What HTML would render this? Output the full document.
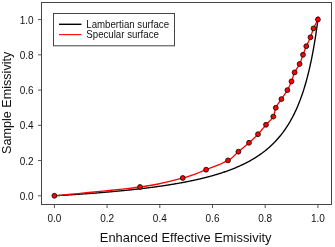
<!DOCTYPE html>
<html><head><meta charset="utf-8"><style>
html,body{margin:0;padding:0;background:#fff;width:335px;height:247px;overflow:hidden}
svg{display:block;will-change:transform}
text{font-family:"Liberation Sans",sans-serif;fill:#111}
</style></head><body>
<svg width="335" height="247" viewBox="0 0 335 247">
<rect x="41.5" y="2.5" width="290" height="202" fill="none" stroke="#444" stroke-width="1"/>
<g stroke="#555" stroke-width="1"><line x1="54.40" y1="205" x2="54.40" y2="208"/><line x1="107.10" y1="205" x2="107.10" y2="208"/><line x1="159.80" y1="205" x2="159.80" y2="208"/><line x1="212.50" y1="205" x2="212.50" y2="208"/><line x1="265.20" y1="205" x2="265.20" y2="208"/><line x1="317.90" y1="205" x2="317.90" y2="208"/><line x1="38" y1="195.80" x2="41" y2="195.80"/><line x1="38" y1="160.56" x2="41" y2="160.56"/><line x1="38" y1="125.32" x2="41" y2="125.32"/><line x1="38" y1="90.08" x2="41" y2="90.08"/><line x1="38" y1="54.84" x2="41" y2="54.84"/><line x1="38" y1="19.60" x2="41" y2="19.60"/></g>
<g font-size="10"><text x="54.40" y="222" text-anchor="middle">0.0</text><text x="107.10" y="222" text-anchor="middle">0.2</text><text x="159.80" y="222" text-anchor="middle">0.4</text><text x="212.50" y="222" text-anchor="middle">0.6</text><text x="265.20" y="222" text-anchor="middle">0.8</text><text x="317.90" y="222" text-anchor="middle">1.0</text><text x="33.6" y="199.90" text-anchor="end">0.0</text><text x="33.6" y="164.66" text-anchor="end">0.2</text><text x="33.6" y="129.42" text-anchor="end">0.4</text><text x="33.6" y="94.18" text-anchor="end">0.6</text><text x="33.6" y="58.94" text-anchor="end">0.8</text><text x="33.6" y="23.70" text-anchor="end">1.0</text></g>
<text x="185.7" y="241.8" font-size="12.9" text-anchor="middle">Enhanced Effective Emissivity</text>
<text transform="translate(11.2,102.8) rotate(-90)" font-size="12.6" text-anchor="middle">Sample Emissivity</text>
<path d="M54.40,195.80 L55.06,195.76 L55.72,195.72 L56.38,195.69 L57.03,195.65 L57.69,195.61 L58.35,195.57 L59.01,195.53 L59.67,195.49 L60.33,195.45 L60.99,195.41 L61.65,195.37 L62.30,195.33 L62.96,195.29 L63.62,195.25 L64.28,195.21 L64.94,195.17 L65.60,195.13 L66.26,195.09 L66.92,195.05 L67.58,195.01 L68.23,194.96 L68.89,194.92 L69.55,194.88 L70.21,194.84 L70.87,194.80 L71.53,194.75 L72.19,194.71 L72.84,194.67 L73.50,194.62 L74.16,194.58 L74.82,194.54 L75.48,194.49 L76.14,194.45 L76.80,194.40 L77.46,194.36 L78.11,194.31 L78.77,194.27 L79.43,194.22 L80.09,194.18 L80.75,194.13 L81.41,194.09 L82.07,194.04 L82.73,193.99 L83.38,193.95 L84.04,193.90 L84.70,193.85 L85.36,193.81 L86.02,193.76 L86.68,193.71 L87.34,193.66 L88.00,193.61 L88.66,193.56 L89.31,193.52 L89.97,193.47 L90.63,193.42 L91.29,193.37 L91.95,193.32 L92.61,193.27 L93.27,193.22 L93.92,193.17 L94.58,193.11 L95.24,193.06 L95.90,193.01 L96.56,192.96 L97.22,192.91 L97.88,192.86 L98.54,192.80 L99.19,192.75 L99.85,192.70 L100.51,192.64 L101.17,192.59 L101.83,192.54 L102.49,192.48 L103.15,192.43 L103.81,192.37 L104.47,192.32 L105.12,192.26 L105.78,192.20 L106.44,192.15 L107.10,192.09 L107.76,192.03 L108.42,191.98 L109.08,191.92 L109.73,191.86 L110.39,191.80 L111.05,191.75 L111.71,191.69 L112.37,191.63 L113.03,191.57 L113.69,191.51 L114.35,191.45 L115.00,191.39 L115.66,191.33 L116.32,191.26 L116.98,191.20 L117.64,191.14 L118.30,191.08 L118.96,191.02 L119.62,190.95 L120.28,190.89 L120.93,190.83 L121.59,190.76 L122.25,190.70 L122.91,190.63 L123.57,190.57 L124.23,190.50 L124.89,190.43 L125.55,190.37 L126.20,190.30 L126.86,190.23 L127.52,190.17 L128.18,190.10 L128.84,190.03 L129.50,189.96 L130.16,189.89 L130.81,189.82 L131.47,189.75 L132.13,189.68 L132.79,189.61 L133.45,189.54 L134.11,189.46 L134.77,189.39 L135.43,189.32 L136.09,189.25 L136.74,189.17 L137.40,189.10 L138.06,189.02 L138.72,188.95 L139.38,188.87 L140.04,188.79 L140.70,188.72 L141.35,188.64 L142.01,188.56 L142.67,188.48 L143.33,188.40 L143.99,188.32 L144.65,188.24 L145.31,188.16 L145.97,188.08 L146.62,188.00 L147.28,187.92 L147.94,187.84 L148.60,187.75 L149.26,187.67 L149.92,187.59 L150.58,187.50 L151.24,187.41 L151.90,187.33 L152.55,187.24 L153.21,187.15 L153.87,187.07 L154.53,186.98 L155.19,186.89 L155.85,186.80 L156.51,186.71 L157.16,186.62 L157.82,186.53 L158.48,186.43 L159.14,186.34 L159.80,186.25 L160.46,186.15 L161.12,186.06 L161.78,185.96 L162.44,185.86 L163.09,185.77 L163.75,185.67 L164.41,185.57 L165.07,185.47 L165.73,185.37 L166.39,185.27 L167.05,185.17 L167.70,185.07 L168.36,184.96 L169.02,184.86 L169.68,184.75 L170.34,184.65 L171.00,184.54 L171.66,184.43 L172.32,184.33 L172.97,184.22 L173.63,184.11 L174.29,184.00 L174.95,183.89 L175.61,183.77 L176.27,183.66 L176.93,183.55 L177.59,183.43 L178.25,183.31 L178.90,183.20 L179.56,183.08 L180.22,182.96 L180.88,182.84 L181.54,182.72 L182.20,182.60 L182.86,182.48 L183.52,182.35 L184.17,182.23 L184.83,182.10 L185.49,181.97 L186.15,181.85 L186.81,181.72 L187.47,181.59 L188.13,181.46 L188.78,181.32 L189.44,181.19 L190.10,181.06 L190.76,180.92 L191.42,180.78 L192.08,180.64 L192.74,180.51 L193.40,180.36 L194.06,180.22 L194.71,180.08 L195.37,179.94 L196.03,179.79 L196.69,179.64 L197.35,179.49 L198.01,179.34 L198.67,179.19 L199.33,179.04 L199.98,178.89 L200.64,178.73 L201.30,178.58 L201.96,178.42 L202.62,178.26 L203.28,178.10 L203.94,177.93 L204.59,177.77 L205.25,177.60 L205.91,177.44 L206.57,177.27 L207.23,177.10 L207.89,176.92 L208.55,176.75 L209.21,176.57 L209.87,176.40 L210.52,176.22 L211.18,176.04 L211.84,175.85 L212.50,175.67 L213.16,175.48 L213.82,175.29 L214.48,175.10 L215.13,174.91 L215.79,174.71 L216.45,174.52 L217.11,174.32 L217.77,174.12 L218.43,173.92 L219.09,173.71 L219.75,173.50 L220.41,173.29 L221.06,173.08 L221.72,172.87 L222.38,172.65 L223.04,172.43 L223.70,172.21 L224.36,171.99 L225.02,171.76 L225.68,171.53 L226.33,171.30 L226.99,171.07 L227.65,170.83 L228.31,170.59 L228.97,170.35 L229.63,170.11 L230.29,169.86 L230.95,169.61 L231.60,169.35 L232.26,169.10 L232.92,168.84 L233.58,168.57 L234.24,168.31 L234.90,168.04 L235.56,167.77 L236.22,167.49 L236.87,167.21 L237.53,166.93 L238.19,166.64 L238.85,166.35 L239.51,166.06 L240.17,165.76 L240.83,165.46 L241.48,165.15 L242.14,164.84 L242.80,164.53 L243.46,164.21 L244.12,163.89 L244.78,163.56 L245.44,163.23 L246.10,162.90 L246.75,162.56 L247.41,162.21 L248.07,161.87 L248.73,161.51 L249.39,161.15 L250.05,160.79 L250.71,160.42 L251.37,160.04 L252.03,159.66 L252.68,159.28 L253.34,158.89 L254.00,158.49 L254.66,158.09 L255.32,157.68 L255.98,157.26 L256.64,156.84 L257.30,156.41 L257.95,155.98 L258.61,155.53 L259.27,155.08 L259.93,154.63 L260.59,154.17 L261.25,153.69 L261.91,153.22 L262.56,152.73 L263.22,152.23 L263.88,151.73 L264.54,151.22 L265.20,150.70 L265.86,150.17 L266.52,149.63 L267.18,149.09 L267.83,148.53 L268.49,147.96 L269.15,147.39 L269.81,146.80 L270.47,146.20 L271.13,145.59 L271.79,144.97 L272.45,144.34 L273.10,143.69 L273.76,143.04 L274.42,142.37 L275.08,141.69 L275.74,140.99 L276.40,140.28 L277.06,139.56 L277.72,138.82 L278.38,138.07 L279.03,137.30 L279.69,136.51 L280.35,135.71 L281.01,134.89 L281.67,134.06 L282.33,133.20 L282.99,132.33 L283.64,131.43 L284.30,130.52 L284.96,129.59 L285.62,128.63 L286.28,127.65 L286.94,126.65 L287.60,125.63 L288.26,124.58 L288.92,123.50 L289.57,122.40 L290.23,121.27 L290.89,120.11 L291.55,118.92 L292.21,117.70 L292.87,116.45 L293.53,115.17 L294.19,113.85 L294.84,112.49 L295.50,111.10 L296.16,109.66 L296.82,108.19 L297.48,106.67 L298.14,105.11 L298.80,103.50 L299.45,101.84 L300.11,100.13 L300.77,98.36 L301.43,96.54 L302.09,94.66 L302.75,92.72 L303.41,90.72 L304.07,88.64 L304.72,86.49 L305.38,84.27 L306.04,81.97 L306.70,79.58 L307.36,77.11 L308.02,74.54 L308.68,71.87 L309.34,69.09 L310.00,66.21 L310.65,63.20 L311.31,60.07 L311.97,56.80 L312.63,53.39 L313.29,49.83 L313.95,46.11 L314.61,42.21 L315.26,38.12 L315.92,33.83 L316.58,29.33 L317.24,24.59 L317.90,19.60" fill="none" stroke="#000" stroke-width="1.35"/>
<path d="M54.40,195.80 L58.67,195.38 L64.21,194.84 L70.78,194.22 L78.18,193.53 L86.17,192.77 L94.52,191.96 L103.03,191.13 L111.47,190.27 L119.60,189.42 L127.22,188.58 L134.09,187.77 L140.00,187.00 L145.13,186.25 L149.84,185.50 L154.17,184.75 L158.16,183.99 L161.85,183.23 L165.29,182.47 L168.52,181.71 L171.56,180.96 L174.47,180.21 L177.29,179.46 L180.05,178.73 L182.80,178.00 L185.43,177.29 L187.83,176.59 L190.03,175.90 L192.06,175.22 L193.96,174.54 L195.76,173.87 L197.48,173.19 L199.16,172.51 L200.83,171.83 L202.52,171.13 L204.27,170.42 L206.10,169.70 L208.01,168.96 L209.96,168.20 L211.94,167.43 L213.93,166.65 L215.91,165.87 L217.86,165.07 L219.76,164.28 L221.60,163.49 L223.37,162.71 L225.03,161.93 L226.58,161.16 L228.00,160.40 L229.27,159.65 L230.40,158.92 L231.40,158.19 L232.31,157.46 L233.14,156.74 L233.91,156.03 L234.63,155.31 L235.34,154.59 L236.06,153.88 L236.79,153.15 L237.56,152.43 L238.40,151.70 L239.28,150.96 L240.17,150.22 L241.07,149.48 L241.98,148.74 L242.88,147.99 L243.79,147.24 L244.69,146.50 L245.58,145.75 L246.46,145.01 L247.32,144.27 L248.17,143.53 L249.00,142.80 L249.81,142.08 L250.60,141.36 L251.39,140.65 L252.16,139.94 L252.91,139.24 L253.66,138.53 L254.40,137.82 L255.13,137.11 L255.86,136.40 L256.58,135.68 L257.29,134.94 L258.00,134.20 L258.70,133.44 L259.40,132.67 L260.09,131.88 L260.77,131.08 L261.44,130.28 L262.11,129.47 L262.77,128.67 L263.42,127.87 L264.07,127.08 L264.72,126.31 L265.36,125.54 L266.00,124.80 L266.65,124.08 L267.31,123.37 L267.99,122.68 L268.66,122.00 L269.33,121.33 L269.99,120.66 L270.63,120.00 L271.25,119.33 L271.83,118.66 L272.37,117.99 L272.86,117.30 L273.30,116.60 L273.67,115.89 L273.96,115.17 L274.19,114.44 L274.37,113.71 L274.52,112.97 L274.66,112.23 L274.78,111.49 L274.91,110.75 L275.07,110.01 L275.26,109.27 L275.50,108.53 L275.80,107.80 L276.16,107.07 L276.55,106.35 L276.97,105.62 L277.42,104.90 L277.89,104.18 L278.38,103.46 L278.88,102.74 L279.39,102.02 L279.90,101.29 L280.41,100.57 L280.91,99.84 L281.40,99.10 L281.89,98.36 L282.40,97.61 L282.92,96.86 L283.44,96.11 L283.97,95.36 L284.49,94.60 L285.01,93.84 L285.53,93.09 L286.02,92.34 L286.51,91.59 L286.97,90.84 L287.40,90.10 L287.81,89.37 L288.20,88.64 L288.58,87.91 L288.94,87.19 L289.29,86.47 L289.63,85.75 L289.96,85.03 L290.28,84.31 L290.59,83.59 L290.90,82.86 L291.20,82.13 L291.50,81.40 L291.79,80.66 L292.05,79.91 L292.30,79.16 L292.54,78.40 L292.77,77.64 L292.99,76.88 L293.22,76.12 L293.46,75.37 L293.71,74.61 L293.98,73.87 L294.28,73.13 L294.60,72.40 L294.96,71.68 L295.34,70.97 L295.75,70.28 L296.19,69.59 L296.63,68.90 L297.08,68.21 L297.53,67.53 L297.98,66.84 L298.42,66.14 L298.84,65.44 L299.23,64.73 L299.60,64.00 L299.94,63.26 L300.26,62.51 L300.56,61.74 L300.86,60.97 L301.14,60.19 L301.41,59.41 L301.67,58.63 L301.93,57.85 L302.19,57.08 L302.46,56.31 L302.73,55.55 L303.00,54.80 L303.28,54.06 L303.55,53.34 L303.81,52.61 L304.07,51.90 L304.34,51.19 L304.60,50.48 L304.87,49.77 L305.14,49.07 L305.41,48.36 L305.70,47.64 L305.99,46.93 L306.30,46.20 L306.62,45.47 L306.96,44.73 L307.31,44.00 L307.68,43.26 L308.05,42.51 L308.42,41.77 L308.79,41.02 L309.16,40.28 L309.51,39.53 L309.86,38.79 L310.19,38.04 L310.50,37.30 L310.79,36.56 L311.05,35.82 L311.30,35.07 L311.54,34.33 L311.76,33.59 L311.99,32.85 L312.21,32.11 L312.44,31.37 L312.68,30.62 L312.93,29.88 L313.20,29.14 L313.50,28.40 L313.83,27.64 L314.20,26.85 L314.60,26.04 L315.02,25.23 L315.45,24.41 L315.88,23.60 L316.29,22.81 L316.69,22.05 L317.06,21.33 L317.39,20.66 L317.68,20.05 L317.90,19.50 L318.06,19.02 L318.18,18.59 L318.25,18.20 L318.29,17.86 L318.29,17.56 L318.27,17.29 L318.24,17.06 L318.20,16.85 L318.16,16.66 L318.13,16.49 L318.10,16.34 L318.10,16.20" fill="none" stroke="#f00" stroke-width="1.3"/>
<g fill="#f00" stroke="#000" stroke-width="0.8"><circle cx="54.40" cy="195.80" r="2.45"/><circle cx="140.00" cy="187.00" r="2.45"/><circle cx="182.80" cy="178.00" r="2.45"/><circle cx="206.10" cy="169.70" r="2.45"/><circle cx="228.00" cy="160.40" r="2.45"/><circle cx="238.40" cy="151.70" r="2.45"/><circle cx="249.00" cy="142.80" r="2.45"/><circle cx="258.00" cy="134.20" r="2.45"/><circle cx="266.00" cy="124.80" r="2.45"/><circle cx="273.30" cy="116.60" r="2.45"/><circle cx="275.80" cy="107.80" r="2.45"/><circle cx="281.40" cy="99.10" r="2.45"/><circle cx="287.40" cy="90.10" r="2.45"/><circle cx="291.50" cy="81.40" r="2.45"/><circle cx="294.60" cy="72.40" r="2.45"/><circle cx="299.60" cy="64.00" r="2.45"/><circle cx="303.00" cy="54.80" r="2.45"/><circle cx="306.30" cy="46.20" r="2.45"/><circle cx="310.50" cy="37.30" r="2.45"/><circle cx="313.50" cy="28.40" r="2.45"/><circle cx="317.90" cy="19.50" r="2.45"/></g>
<rect x="53.5" y="13.5" width="121" height="32.3" fill="#fff" stroke="#444" stroke-width="1"/>
<line x1="59" y1="24.3" x2="81.5" y2="24.3" stroke="#000" stroke-width="1.4"/>
<line x1="59" y1="34.6" x2="81.5" y2="34.6" stroke="#f11" stroke-width="1.2"/>
<text transform="translate(86.3,27.8) scale(0.94,1)" font-size="10.3">Lambertian surface</text>
<text transform="translate(86.3,38.2) scale(0.94,1)" font-size="10.3">Specular surface</text>
</svg>
</body></html>
